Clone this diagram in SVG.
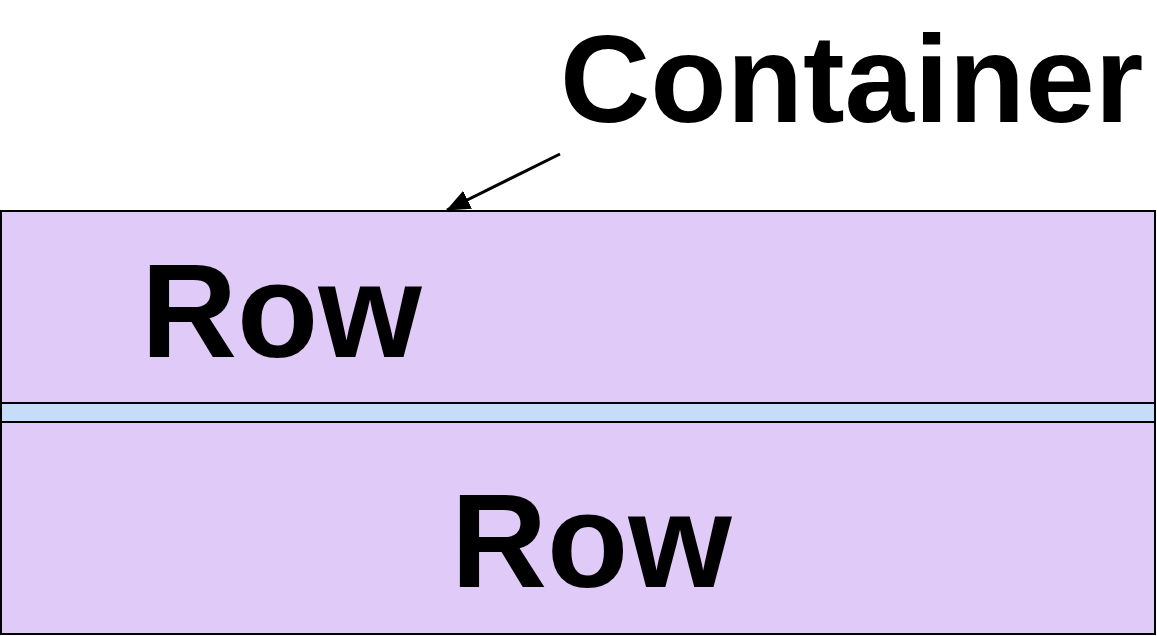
<svg xmlns="http://www.w3.org/2000/svg" width="1157" height="636" viewBox="0 0 1157 636">
<style>
.lbl{font-family:"Liberation Sans",Arial,sans-serif;font-weight:bold;fill:#000}
.row{fill:#e0caf7;stroke:#000;stroke-width:2}
</style>
<defs>
<marker id="ah" viewBox="0 0 24 20" refX="23" refY="10" markerWidth="24" markerHeight="20" orient="auto" markerUnits="userSpaceOnUse">
<path d="M0,0 L24,10 L0,20 z" fill="#000"/>
</marker>
</defs>
<rect width="1157" height="636" fill="#fff"/>
<g id="container">
<rect x="1" y="211" width="1154" height="423" fill="#c5ddf8" stroke="#000" stroke-width="2"/>
</g>
<g id="row1">
<rect class="row" x="1" y="211" width="1154" height="192"/>
<text class="lbl" x="141" y="357" font-size="133">Row</text>
</g>
<g id="row2">
<rect class="row" x="1" y="422" width="1154" height="212"/>
<text class="lbl" x="451" y="587" font-size="133">Row</text>
</g>
<g id="container-label">
<text class="lbl" x="560" y="122" font-size="125">Container</text>
</g>
<g id="connectors">
<line x1="560" y1="154" x2="447" y2="210" stroke="#000" stroke-width="3" marker-end="url(#ah)"/>
</g>
</svg>
